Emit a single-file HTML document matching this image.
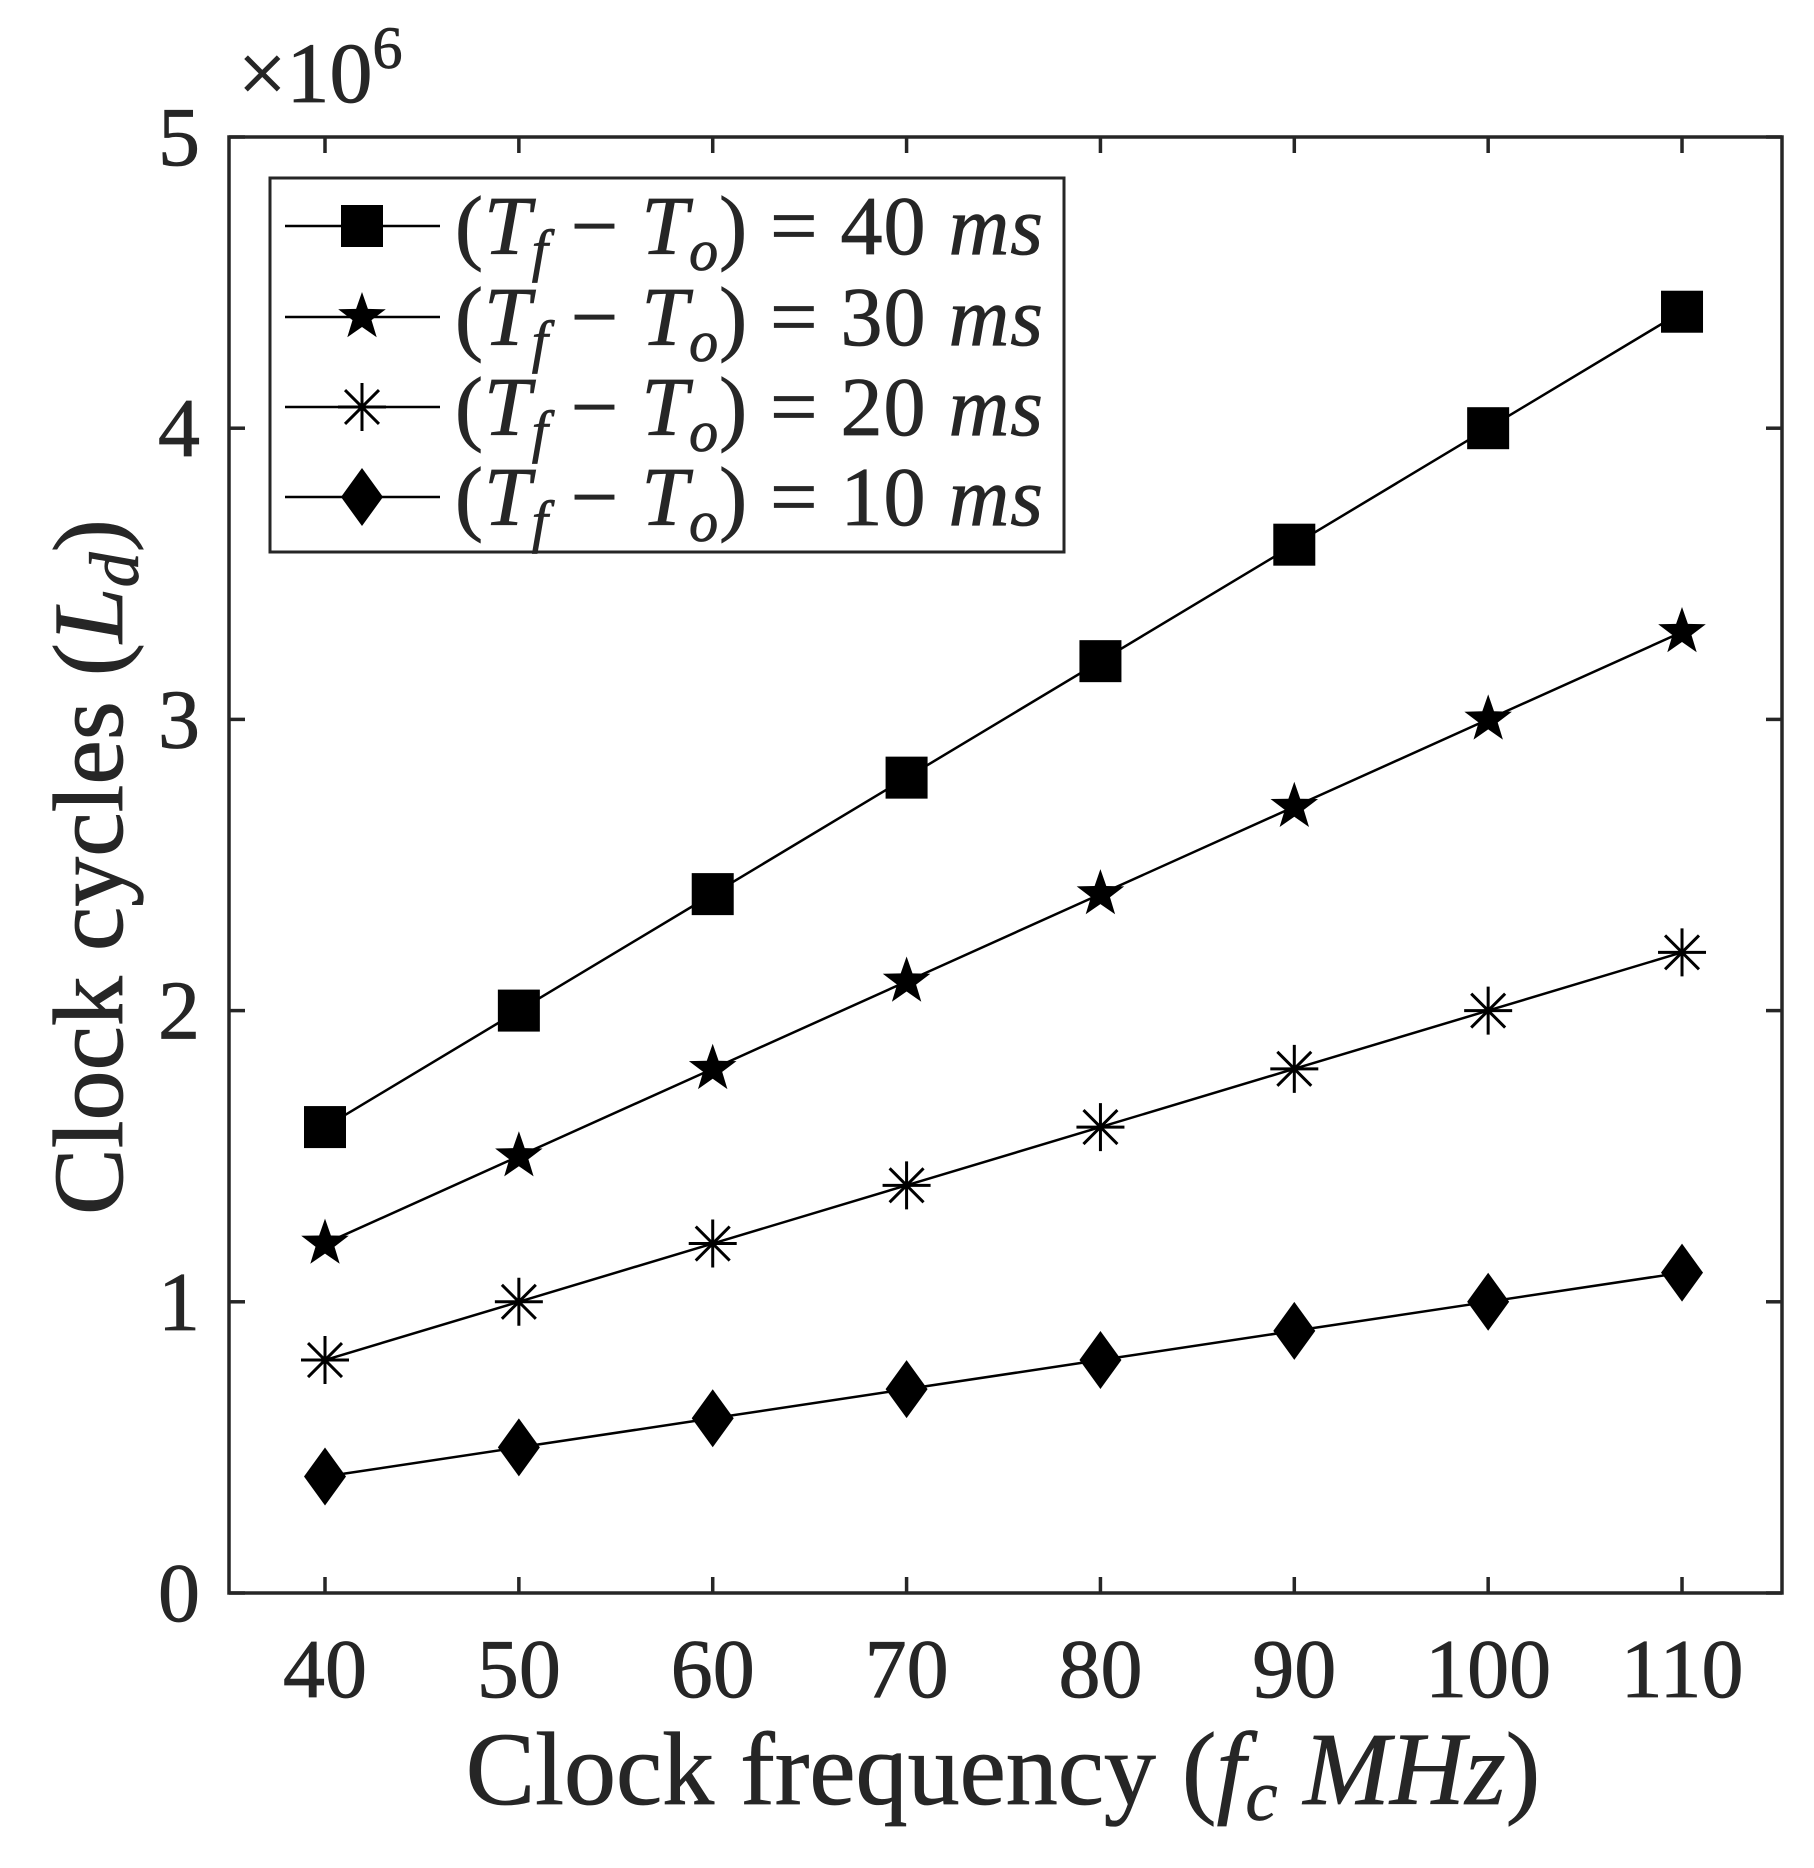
<!DOCTYPE html>
<html><head><meta charset="utf-8"><style>
html,body{margin:0;padding:0;background:#fff;}
svg text{font-family:"Liberation Serif",serif;fill:#262626;stroke:#262626;stroke-width:0.8;}
</style></head><body>
<svg width="1814" height="1863" viewBox="0 0 1814 1863" xmlns="http://www.w3.org/2000/svg">
<rect x="0" y="0" width="1814" height="1863" fill="#fff"/>
<g id="plot"></g>
<rect x="229" y="137" width="1553" height="1456" fill="none" stroke="#262626" stroke-width="3.5"/>
<g stroke="#262626" stroke-width="3.5" id="ticks"></g>
<g font-size="84" text-anchor="middle" id="xl"></g>
<g font-size="84" text-anchor="end" id="yl"></g>
<text x="238" y="102" font-size="86">×10<tspan font-size="60" dy="-34">6</tspan></text>
<text x="1003" y="1804" font-size="104" text-anchor="middle">Clock frequency (<tspan font-style="italic">f</tspan><tspan font-size="72" font-style="italic" dy="16">c</tspan><tspan dy="-16" font-style="italic"> MHz</tspan>)</text>
<text transform="translate(122,867) rotate(-90)" font-size="100" text-anchor="middle">Clock cycles (<tspan font-style="italic">L</tspan><tspan font-size="70" font-style="italic" dy="16">d</tspan><tspan dy="-16">)</tspan></text>
<rect x="270" y="178" width="794" height="374" fill="#fff" stroke="#262626" stroke-width="3"/>
<g id="leg"></g>
</svg>
<script>
const NS="http://www.w3.org/2000/svg";
function el(p,t,a,txt){const e=document.createElementNS(NS,t);for(const k in a)e.setAttribute(k,a[k]);if(txt!==undefined)e.textContent=txt;document.getElementById(p).appendChild(e);return e;}
const X=x=>325+(x-40)*19.386, Y=v=>1593-v*291.2;
function marker(p,type,cx,cy){
 if(type==0) el(p,'rect',{x:cx-21,y:cy-21,width:42,height:42,fill:'#000'});
 else if(type==1){let pts=[];for(let i=0;i<10;i++){const r=i%2?10:25,a=-Math.PI/2+i*Math.PI/5;pts.push((cx+r*Math.cos(a)).toFixed(1)+','+(cy+r*Math.sin(a)).toFixed(1));}el(p,'polygon',{points:pts.join(' '),fill:'#000'});}
 else if(type==2){let d='';for(let i=0;i<4;i++){const a=i*Math.PI/4,r=24;d+=`M${cx-r*Math.cos(a)},${cy-r*Math.sin(a)}L${cx+r*Math.cos(a)},${cy+r*Math.sin(a)}`;}el(p,'path',{d:d,stroke:'#000','stroke-width':3,fill:'none'});}
 else el(p,'polygon',{points:`${cx},${cy-29} ${cx+21},${cy} ${cx},${cy+29} ${cx-21},${cy}`,fill:'#000'});
}
const xs=[40,50,60,70,80,90,100,110];
const steps=[0.04,0.03,0.02,0.01];
steps.forEach((s,k)=>{
 const pts=xs.map(x=>X(x)+','+Y(x*s));
 el('plot','polyline',{points:pts.join(' '),fill:'none',stroke:'#000','stroke-width':2.5});
 xs.forEach(x=>marker('plot',k,X(x),Y(x*s)));
});
xs.forEach(x=>{el('ticks','line',{x1:X(x),y1:1593,x2:X(x),y2:1577});el('ticks','line',{x1:X(x),y1:137,x2:X(x),y2:153});
 el('xl','text',{x:X(x),y:1697},String(x));});
for(let v=0;v<=5;v++){el('ticks','line',{x1:229,y1:Y(v),x2:245,y2:Y(v)});el('ticks','line',{x1:1782,y1:Y(v),x2:1766,y2:Y(v)});
 el('yl','text',{x:200,y:Y(v)+28},String(v));}
const rows=[226,317,407,497],lab=['40','30','20','10'];
rows.forEach((y,k)=>{
 el('leg','line',{x1:285,y1:y,x2:440,y2:y,stroke:'#000','stroke-width':2.5});
 marker('leg',k,362,y);
 const t=el('leg','text',{x:455,y:y+28,'font-size':84,'textLength':588,'lengthAdjust':'spacing'});
 t.innerHTML=`(<tspan font-style="italic">T</tspan><tspan font-style="italic" font-size="58" dy="16">f</tspan><tspan dy="-16"> − </tspan><tspan font-style="italic">T</tspan><tspan font-style="italic" font-size="58" dy="16">o</tspan><tspan dy="-16">)  =  ${lab[k]} </tspan><tspan font-style="italic">ms</tspan>`;
});
</script>
</body></html>
